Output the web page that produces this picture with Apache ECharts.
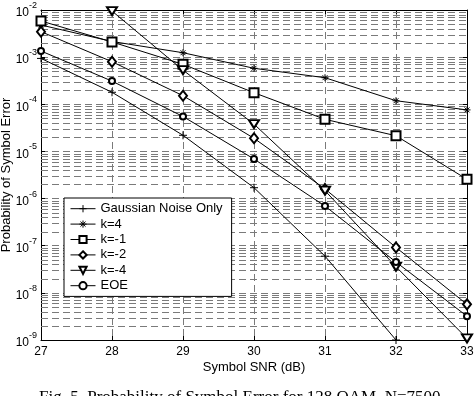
<!DOCTYPE html>
<html>
<head>
<meta charset="utf-8">
<script src="https://cdn.jsdelivr.net/npm/echarts@6/dist/echarts.min.js"></script>
<style>html,body{margin:0;padding:0;background:#fff;}#c{width:474px;height:396px;}</style>
</head>
<body>
<div id="c"></div>
<script>
// ---- data ----
var snr = [27, 28, 29, 30, 31, 32, 33];
var seriesNames = ['Gaussian Noise Only', 'k=4', 'k=-1', 'k=-2', 'k=-4', 'EOE'];
var gaussian = [9.4e-4, 1.8e-4, 2.2e-5, 1.7e-6, 6.0e-8, 1.0e-9, null];
var k4 = [4.8e-3, 2.15e-3, 1.24e-3, 5.8e-4, 3.66e-4, 1.19e-4, 7.6e-5];
var km1 = [5.85e-3, 2.1e-3, 7.05e-4, 1.76e-4, 4.8e-5, 2.15e-5, 2.56e-6];
var km2 = [3.47e-3, 8.0e-4, 1.52e-4, 1.9e-5, 1.6e-6, 9.2e-8, 5.7e-9];
var km4 = [null, 9.5e-3, 5.3e-4, 3.8e-5, 1.47e-6, 3.58e-8, 1.08e-9];
var eoe = [1.35e-3, 3.1e-4, 5.5e-5, 6.9e-6, 6.95e-7, 4.5e-8, 3.2e-9];
var yTickExponents = [-9, -8, -7, -6, -5, -4, -3, -2];
var xTicks = [27, 28, 29, 30, 31, 32, 33];
var minorMultipliers = [2, 3, 4, 5, 6, 7, 8, 9];
var caption = 'Fig. 5. Probability of Symbol Error for 128 QAM, N=7500';

function pairs(arr) {
  var out = [];
  for (var i = 0; i < snr.length; i++) if (arr[i] != null) out.push([snr[i], arr[i]]);
  return out;
}

// minor log grid values (2..9 x 10^n)
var minorVals = [];
for (var e = yTickExponents[0]; e < yTickExponents[yTickExponents.length - 1]; e++) {
  for (var mi = 0; mi < minorMultipliers.length; mi++) minorVals.push([xTicks[0], minorMultipliers[mi] * Math.pow(10, e)]);
}

var FONT = 'Liberation Sans';
var GRID_COLOR = '#7a7a7a';
var gridDash = { type: [7, 4], color: GRID_COLOR, width: 1 };

function mkSeries(name, arr, symbol, size, extra) {
  var s = {
    name: name, type: 'line', data: pairs(arr),
    xAxisIndex: 0, yAxisIndex: 0,
    symbol: symbol, symbolSize: size,
    color: '#000',
    lineStyle: { color: '#000', width: 1 },
    itemStyle: { color: '#000', borderColor: '#000', borderWidth: 1 },
    z: 5, animation: false, silent: true, clip: true
  };
  if (extra) for (var k in extra) s[k] = extra[k];
  return s;
}

var plusPath = 'path://M5,0L5,10M0,5L10,5';
var starPath = 'path://M5,0L5,10M0,5L10,5M1.5,1.5L8.5,8.5M8.5,1.5L1.5,8.5';

var series = [
  {
    type: 'custom', name: 'minorGrid', xAxisIndex: 0, yAxisIndex: 0, silent: true, z: 1,
    animation: false, data: minorVals,
    renderItem: function (params, api) {
      var v = api.value(1);
      var p1 = api.coord([xTicks[0], v]);
      var p2 = api.coord([xTicks[xTicks.length - 1], v]);
      var y = Math.round(p1[1]) + 0.5;
      return {
        type: 'line', silent: true,
        shape: { x1: p1[0], y1: y, x2: p2[0], y2: y },
        style: { stroke: GRID_COLOR, lineWidth: 1, lineDash: [7, 4] }
      };
    }
  },
  mkSeries(seriesNames[0], gaussian, plusPath, 8),
  mkSeries(seriesNames[1], k4, starPath, 7),
  mkSeries(seriesNames[2], km1, 'emptyRect', 9),
  mkSeries(seriesNames[3], km2, 'emptyDiamond', [8, 10]),
  mkSeries(seriesNames[4], km4, 'emptyTriangle', [10, 8], { symbolRotate: 180 }),
  mkSeries(seriesNames[5], eoe, 'emptyCircle', 6)
];

var chart = echarts.init(document.getElementById('c'), null, { renderer: 'canvas' });
chart.setOption({
  backgroundColor: '#fff',
  animation: false,
  textStyle: { fontFamily: FONT },
  grid: { left: 41, right: 7, top: 10, bottom: 56, containLabel: false, outerBoundsMode: 'none' },
  legend: {
    orient: 'vertical', left: 64, top: 198,
    padding: [3, 9, 3, 6],
    itemWidth: 25, itemHeight: 9, itemGap: 0,
    backgroundColor: '#fff', borderColor: '#000', borderWidth: 1,
    lineStyle: { width: 1, color: '#000' },
    itemStyle: { borderWidth: 1 },
    textStyle: { fontFamily: FONT, fontSize: 13, color: '#000', lineHeight: 15.4 },
    data: seriesNames,
    selectedMode: false
  },
  xAxis: [{
    type: 'value', min: xTicks[0], max: xTicks[xTicks.length - 1], interval: 1,
    name: 'Symbol SNR (dB)', nameLocation: 'middle', nameGap: 21, nameMoveOverlap: false,
    nameTextStyle: { fontFamily: FONT, fontSize: 13, color: '#000' },
    axisLine: { show: true, lineStyle: { color: '#000', width: 1 } },
    axisTick: { show: true, inside: true, length: 4, lineStyle: { color: '#000' } },
    axisLabel: { fontFamily: FONT, fontSize: 12, color: '#000', margin: 6 },
    splitLine: { show: true, lineStyle: gridDash }
  }, {
    type: 'value', position: 'top', min: xTicks[0], max: xTicks[xTicks.length - 1], interval: 1,
    axisLine: { show: true, onZero: false, lineStyle: { color: '#000', width: 1 } },
    axisTick: { show: true, inside: true, length: 4, lineStyle: { color: '#000' } },
    axisLabel: { show: false }, splitLine: { show: false }
  }],
  yAxis: [{
    type: 'log', logBase: 10, min: Math.pow(10, yTickExponents[0]), max: Math.pow(10, yTickExponents[yTickExponents.length - 1]),
    interval: 1,
    name: 'Probability of Symbol Error', nameLocation: 'middle', nameGap: 28, nameMoveOverlap: false,
    nameTextStyle: { fontFamily: FONT, fontSize: 13, color: '#000' },
    axisLine: { show: true, lineStyle: { color: '#000', width: 1 } },
    axisTick: { show: true, inside: true, length: 4, lineStyle: { color: '#000' } },
    axisLabel: {
      margin: 4, color: '#000',
      formatter: function (v) { return '{b|10}{s|' + Math.round(Math.log(v) / Math.LN10) + '}'; },
      rich: {
        b: { fontFamily: FONT, fontSize: 12, color: '#000', verticalAlign: 'bottom', padding: [6, 0, 0, 0] },
        s: { fontFamily: FONT, fontSize: 9, color: '#000', verticalAlign: 'top', padding: [0, 0, 0, 0] }
      }
    },
    splitLine: { show: true, lineStyle: gridDash }
  }, {
    type: 'log', logBase: 10, position: 'right', min: Math.pow(10, yTickExponents[0]), max: Math.pow(10, yTickExponents[yTickExponents.length - 1]),
    interval: 1,
    axisLine: { show: true, onZero: false, lineStyle: { color: '#000', width: 1 } },
    axisTick: { show: true, inside: true, length: 4, lineStyle: { color: '#000' } },
    axisLabel: { show: false }, splitLine: { show: false }
  }],
  series: series,
  graphic: [{
    type: 'text', left: 39, top: 389, silent: true,
    style: { text: caption, font: '17px "Liberation Serif"', fill: '#000' }
  }]
});
</script>
</body>
</html>
